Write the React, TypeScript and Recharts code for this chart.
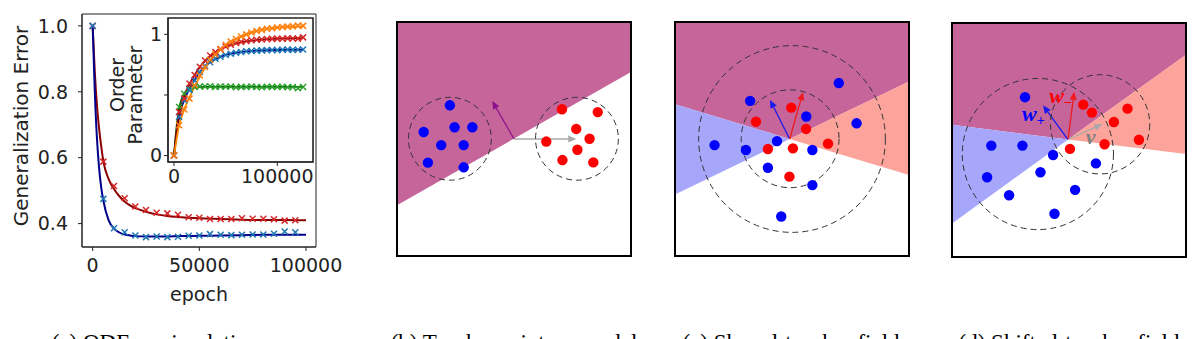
import React from 'react';
import {
  Area,
  CartesianGrid,
  ComposedChart,
  Label,
  Line,
  ReferenceArea,
  ReferenceDot,
  ReferenceLine,
  Scatter,
  XAxis,
  YAxis,
} from 'recharts';

const FONT = 'DejaVu Sans, sans-serif';
const INK = '#222';

// (a) generalization error, simulations (markers) and ODE (lines)
const SIM_EPOCHS = [0, 5000, 10000, 15000, 20000, 25000, 30000, 35000, 40000, 45000, 50000, 55000, 60000, 65000, 70000, 75000, 80000, 85000, 90000, 95000];
const SIM_ERR_RED = [1.0, 0.588, 0.514, 0.477, 0.452, 0.441, 0.433, 0.431, 0.427, 0.419, 0.418, 0.414, 0.414, 0.414, 0.416, 0.415, 0.415, 0.413, 0.409, 0.41];
const SIM_ERR_BLUE = [1.0, 0.475, 0.386, 0.374, 0.364, 0.359, 0.361, 0.359, 0.36, 0.363, 0.364, 0.368, 0.366, 0.365, 0.366, 0.367, 0.367, 0.369, 0.376, 0.374];
const ODE_EPOCHS = [0, 1000, 2000, 3000, 4000, 5000, 7500, 10000, 12500, 15000, 17500, 20000, 25000, 30000, 35000, 40000, 50000, 60000, 70000, 80000, 90000, 100000];
const ODE_ERR_RED = [1.0, 0.86, 0.76, 0.69, 0.635, 0.59, 0.535, 0.505, 0.483, 0.467, 0.455, 0.447, 0.436, 0.428, 0.423, 0.42, 0.416, 0.414, 0.412, 0.411, 0.411, 0.41];
const ODE_ERR_BLUE = [1.0, 0.8, 0.66, 0.57, 0.51, 0.47, 0.41, 0.385, 0.373, 0.367, 0.364, 0.362, 0.361, 0.361, 0.361, 0.362, 0.363, 0.364, 0.365, 0.366, 0.366, 0.366];

// inset: order parameters
const INSET_SIM_X = [0, 5000, 10000, 15000, 20000, 25000, 30000, 35000, 40000, 45000, 50000, 55000, 60000, 65000, 70000, 75000, 80000, 85000, 90000, 95000, 100000, 105000, 110000, 115000, 120000, 125000];
const SIM_OP_ORANGE = [0, 0.25, 0.38, 0.47, 0.58, 0.66, 0.73, 0.79, 0.835, 0.875, 0.915, 0.94, 0.962, 0.983, 1.0, 1.015, 1.028, 1.037, 1.046, 1.05, 1.057, 1.06, 1.064, 1.066, 1.072, 1.07];
const SIM_OP_RED = [0, 0.36, 0.47, 0.595, 0.664, 0.733, 0.785, 0.825, 0.855, 0.878, 0.9, 0.915, 0.928, 0.938, 0.945, 0.952, 0.955, 0.958, 0.962, 0.963, 0.965, 0.964, 0.967, 0.966, 0.965, 0.975];
const SIM_OP_BLUE = [0, 0.32, 0.457, 0.54, 0.62, 0.69, 0.74, 0.77, 0.8, 0.815, 0.829, 0.84, 0.848, 0.855, 0.86, 0.863, 0.866, 0.868, 0.87, 0.871, 0.87, 0.873, 0.874, 0.872, 0.873, 0.875];
const SIM_OP_GREEN = [0, 0.4, 0.51, 0.55, 0.565, 0.57, 0.57, 0.572, 0.565, 0.57, 0.568, 0.57, 0.563, 0.567, 0.565, 0.57, 0.566, 0.563, 0.568, 0.567, 0.565, 0.568, 0.563, 0.566, 0.555, 0.566];
const INSET_ODE_X = [0, 2500, 5000, 7500, 10000, 15000, 20000, 25000, 30000, 40000, 50000, 60000, 70000, 80000, 90000, 100000, 110000, 125000];
const ODE_OP_ORANGE = [0, 0.13, 0.25, 0.32, 0.385, 0.48, 0.57, 0.65, 0.72, 0.83, 0.91, 0.96, 1.0, 1.027, 1.045, 1.055, 1.062, 1.066];
const ODE_OP_RED = [0, 0.2, 0.35, 0.43, 0.49, 0.59, 0.665, 0.73, 0.78, 0.85, 0.898, 0.925, 0.942, 0.953, 0.96, 0.964, 0.967, 0.968];
const ODE_OP_BLUE = [0, 0.17, 0.31, 0.4, 0.46, 0.55, 0.625, 0.69, 0.735, 0.795, 0.83, 0.848, 0.859, 0.865, 0.869, 0.871, 0.872, 0.873];
const ODE_OP_GREEN = [0, 0.24, 0.39, 0.47, 0.515, 0.55, 0.561, 0.565, 0.567, 0.567, 0.567, 0.567, 0.567, 0.567, 0.567, 0.567, 0.567, 0.567];

// (b)-(d) toy geometries, coordinates in a 0..100 box
type Pt = [number, number];
const B_BLUE: Pt[] = [[22.6, 64.4], [11.4, 53.0], [24.6, 55.0], [32.2, 55.0], [18.9, 47.4], [28.5, 47.4], [13.2, 39.9], [28.5, 37.9]];
const B_RED: Pt[] = [[70.5, 62.7], [85.8, 61.5], [76.6, 54.3], [63.8, 48.9], [82.3, 50.1], [77.1, 45.4], [70.7, 41.0], [83.9, 40.0]];
const B_CIRCLES: [number, number, number][] = [[22.6, 50.1, 17.7], [76.9, 50.1, 17.7]];
const B_BOUNDARY = { left: 21.7, right: 78.6 };
const B_ARROWS: [Pt, Pt, string][] = [[[50, 50], [40.7, 66.2], 'purple'], [[50, 50], [76.6, 50], 'gray']];

const C_BLUE: Pt[] = [[70.0, 73.9], [32.1, 66.3], [56.1, 59.6], [77.6, 56.7], [16.9, 47.4], [30.3, 45.3], [43.6, 49.1], [58.7, 45.3], [39.7, 37.7], [58.7, 30.3], [45.4, 16.9]];
const C_RED: Pt[] = [[49.7, 63.4], [34.6, 57.4], [56.0, 54.3], [65.4, 48.0], [39.7, 45.7], [50.4, 46.0], [48.9, 33.9]];
const C_CIRCLES: [number, number, number][] = [[50, 50, 39.9], [49.2, 50.1, 20.9]];
const C_CENTER: Pt = [49, 50];
const C_EDGES = { leftUp: 64.9, leftDown: 26.3, rightUp: 74.6, rightDown: 34.6 };
const C_ARROWS: [Pt, Pt, string][] = [[[49, 50], [40.6, 66.7], 'blue'], [[49, 50], [54.7, 70.0], 'red']];

const D_BLUE: Pt[] = [[31.2, 68.3], [16.8, 47.6], [30.1, 47.6], [15.0, 34.1], [43.2, 43.6], [37.8, 36.2], [24.4, 26.4], [52.6, 28.7], [61.5, 40.0], [43.8, 18.5]];
const D_RED: Pt[] = [[56.1, 65.1], [59.8, 61.7], [75.0, 63.4], [69.2, 57.7], [79.9, 50.1], [65.2, 48.2], [50.4, 46.2]];
const D_CIRCLES: [number, number, number][] = [[36.7, 44.0, 32.3], [63.3, 56.7, 21.2]];
const D_CENTER: Pt = [49.6, 50.2];
const D_EDGES = { leftUp: 56.5, leftDown: 14.3, rightUp: 86.4, rightDown: 44.0 };
const D_ARROWS: [Pt, Pt, string][] = [[[49.6, 50.2], [38.9, 64.8], 'blue'], [[49.6, 50.2], [52.2, 70.6], 'red'], [[49.6, 50.2], [64.3, 56.8], 'gray']];
const D_LABELS: { x: number; y: number; name: string; sub: string; color: string }[] = [
  { x: 44.6, y: 67.4, name: 'w', sub: '\u2212', color: 'red' },
  { x: 32.9, y: 59.8, name: 'w', sub: '+', color: 'blue' },
  { x: 60.1, y: 49.8, name: 'v', sub: '', color: 'gray' },
];

const CAPTIONS = ['(a) ODE vs simulations', '(b) Teacher-mixture model', '(c) Shared-teacher field', '(d) Shifted-teacher field'];
const CAPTION_CENTERS = [160, 514, 791, 1069];

const rows = (xs: number[], ys: number[]) => xs.map((x, i) => ({ x, y: ys[i] }));
const pts = (p: Pt[]) => p.map(([x, y]) => ({ x, y }));

const ARROW_COLORS: Record<string, string> = {
  purple: '#8e128e',
  gray: '#a8a8a8',
  blue: '#1a1af0',
  red: '#f01a1a',
};
const MAGENTA = '#c5659a';
const LAVENDER = '#a6a6fb';
const SALMON = '#fca39b';

const cross = (color: string) => (p: any) => {
  const { cx, cy } = p;
  const s = 3;
  return (
    <g stroke={color} strokeWidth={1.5}>
      <line x1={cx - s} y1={cy - s} x2={cx + s} y2={cy + s} />
      <line x1={cx - s} y1={cy + s} x2={cx + s} y2={cy - s} />
    </g>
  );
};

const dot = (color: string) => (p: any) => <circle cx={p.cx} cy={p.cy} r={5.2} fill={color} />;

const arrow = (color: string) => (p: any) => {
  const { x1, y1, x2, y2 } = p;
  const dx = x2 - x1;
  const dy = y2 - y1;
  const len = Math.hypot(dx, dy) || 1;
  const ux = dx / len;
  const uy = dy / len;
  const hl = 8;
  const hw = 3.5;
  const bx = x2 - ux * hl;
  const by = y2 - uy * hl;
  return (
    <g>
      <line x1={x1} y1={y1} x2={bx} y2={by} stroke={color} strokeWidth={1.3} />
      <polygon points={`${x2},${y2} ${bx - uy * hw},${by + ux * hw} ${bx + uy * hw},${by - ux * hw}`} fill={color} />
    </g>
  );
};

const vecLabel = (p: any) => {
  const { cx, cy, payload } = p;
  return (
    <text x={cx - 7} y={cy + 4} fill={payload.color} fontFamily="Liberation Serif, serif" fontStyle="italic" fontWeight="bold" fontSize={22}>
      {payload.name}
      {payload.sub && (
        <tspan dy={4} fontSize={14} fontStyle="normal">
          {payload.sub}
        </tspan>
      )}
    </text>
  );
};

const tickStyle = { fill: INK, fontSize: 19, fontFamily: FONT };

function ErrorChart() {
  return (
    <ComposedChart width={350} height={320} margin={{ top: 14, right: 34, bottom: 17, left: 22 }}>
      <XAxis
        type="number"
        dataKey="x"
        domain={[-5000, 104700]}
        ticks={[0, 50000, 100000]}
        allowDataOverflow
        height={56}
        tickSize={4}
        tickMargin={8}
        tick={tickStyle}
        stroke={INK}
      >
        <Label value="epoch" position="insideBottom" offset={2} fill={INK} fontSize={19} fontFamily={FONT} />
      </XAxis>
      <YAxis
        type="number"
        dataKey="y"
        domain={[0.329, 1.036]}
        ticks={[0.4, 0.6, 0.8, 1.0]}
        tickFormatter={(v: number) => v.toFixed(1)}
        allowDataOverflow
        width={60}
        tickSize={4}
        tickMargin={10}
        tick={tickStyle}
        stroke={INK}
      >
        <Label
          content={() => (
            <text x={28} y={126} transform="rotate(-90 28 126)" textAnchor="middle" fill={INK} fontSize={20} fontFamily={FONT}>
              Generalization Error
            </text>
          )}
        />
      </YAxis>
      <ReferenceArea x1={-5000} x2={104700} y1={0.329} y2={1.036} fill="none" stroke={INK} strokeWidth={1} ifOverflow="visible" />
      <Line data={rows(ODE_EPOCHS, ODE_ERR_RED)} dataKey="y" type="monotone" stroke="#8b0000" strokeWidth={2} dot={false} isAnimationActive={false} />
      <Line data={rows(ODE_EPOCHS, ODE_ERR_BLUE)} dataKey="y" type="monotone" stroke="#00008b" strokeWidth={2} dot={false} isAnimationActive={false} />
      <Scatter data={rows(SIM_EPOCHS, SIM_ERR_RED)} dataKey="y" shape={cross('#d62728')} isAnimationActive={false} />
      <Scatter data={rows(SIM_EPOCHS, SIM_ERR_BLUE)} dataKey="y" shape={cross('#1f77b4')} isAnimationActive={false} />
    </ComposedChart>
  );
}

function OrderInset() {
  const series: [number[], number[], string, string][] = [
    [ODE_OP_GREEN, SIM_OP_GREEN, '#006400', '#2ca02c'],
    [ODE_OP_BLUE, SIM_OP_BLUE, '#00008b', '#1f77b4'],
    [ODE_OP_RED, SIM_OP_RED, '#8b0000', '#d62728'],
    [ODE_OP_ORANGE, SIM_OP_ORANGE, '#ff8c00', '#ff7f0e'],
  ];
  return (
    <ComposedChart width={220} height={200} margin={{ top: 18, right: 7, bottom: 8, left: 38 }}>
      <CartesianGrid fill="#fff" horizontal={false} vertical={false} />
      <XAxis
        type="number"
        dataKey="x"
        domain={[-5800, 134600]}
        ticks={[0, 100000]}
        allowDataOverflow
        height={30}
        tickSize={4}
        tickMargin={4}
        tick={tickStyle}
        stroke={INK}
      />
      <YAxis
        type="number"
        dataKey="y"
        domain={[-0.053, 1.135]}
        ticks={[0, 0.5, 1]}
        tickFormatter={(v: number) => (v === 0.5 ? '' : String(v))}
        allowDataOverflow
        width={30}
        tickSize={4}
        tickMargin={2}
        tick={tickStyle}
        stroke={INK}
      >
        <Label
          content={() => (
            <g fill={INK} fontSize={19} fontFamily={FONT}>
              <text x={24} y={85} transform="rotate(-90 24 85)" textAnchor="middle">Order</text>
              <text x={42} y={95} transform="rotate(-90 42 95)" textAnchor="middle">Parameter</text>
            </g>
          )}
        />
      </YAxis>
      {series.map(([ode, sim, lc, mc], i) => (
        <Scatter key={`s${i}`} data={rows(INSET_SIM_X, sim)} dataKey="y" shape={cross(mc)} isAnimationActive={false} />
      ))}
      {series.map(([ode, sim, lc], i) => (
        <Line key={`l${i}`} data={rows(INSET_ODE_X, ode)} dataKey="y" type="monotone" stroke={lc} strokeWidth={1.8} dot={false} isAnimationActive={false} />
      ))}
      <ReferenceArea x1={-5800} x2={134600} y1={-0.053} y2={1.135} fill="none" stroke={INK} strokeWidth={1.6} ifOverflow="visible" />
    </ComposedChart>
  );
}

type Wedges = {
  top: { x: number; r: [number, number] }[];
  left?: { x: number; r: [number, number] }[];
  right?: { x: number; r: [number, number] }[];
};

function Geometry({
  wedges,
  blue,
  red,
  circles,
  arrows,
  labels,
}: {
  wedges: Wedges;
  blue: Pt[];
  red: Pt[];
  circles: [number, number, number][];
  arrows: [Pt, Pt, string][];
  labels?: typeof D_LABELS;
}) {
  const size = 234;
  const px = size / 100;
  return (
    <ComposedChart width={size + 4} height={size + 4} margin={{ top: 2, right: 2, bottom: 2, left: 2 }}>
      <XAxis type="number" dataKey="x" domain={[0, 100]} allowDataOverflow hide />
      <YAxis type="number" domain={[0, 100]} allowDataOverflow hide />
      <Area data={wedges.top} dataKey="r" type="linear" stroke="none" fill={MAGENTA} fillOpacity={1} isAnimationActive={false} />
      {wedges.left && (
        <Area data={wedges.left} dataKey="r" type="linear" stroke="none" fill={LAVENDER} fillOpacity={1} isAnimationActive={false} />
      )}
      {wedges.right && (
        <Area data={wedges.right} dataKey="r" type="linear" stroke="none" fill={SALMON} fillOpacity={1} isAnimationActive={false} />
      )}
      {circles.map(([x, y, r], i) => (
        <ReferenceDot key={`c${i}`} x={x} y={y} r={r * px} fill="none" stroke="#333" strokeWidth={1} strokeDasharray="6 4" ifOverflow="visible" />
      ))}
      <Scatter data={pts(blue)} dataKey="y" shape={dot('#0000ff')} isAnimationActive={false} />
      <Scatter data={pts(red)} dataKey="y" shape={dot('#ff0000')} isAnimationActive={false} />
      {arrows.map(([a, b, c], i) => (
        <ReferenceLine
          key={`a${i}`}
          segment={[{ x: a[0], y: a[1] }, { x: b[0], y: b[1] }]}
          shape={arrow(ARROW_COLORS[c])}
          ifOverflow="visible"
        />
      ))}
      {labels && <Scatter data={labels} dataKey="y" shape={vecLabel} isAnimationActive={false} />}
      <ReferenceArea x1={0} x2={100} y1={0} y2={100} fill="none" stroke="#000" strokeWidth={2} ifOverflow="visible" />
    </ComposedChart>
  );
}

const fourWedges = (c: Pt, e: typeof C_EDGES): Wedges => ({
  top: [
    { x: 0, r: [e.leftUp, 100] },
    { x: c[0], r: [c[1], 100] },
    { x: 100, r: [e.rightUp, 100] },
  ],
  left: [
    { x: 0, r: [e.leftDown, e.leftUp] },
    { x: c[0], r: [c[1], c[1]] },
  ],
  right: [
    { x: c[0], r: [c[1], c[1]] },
    { x: 100, r: [e.rightDown, e.rightUp] },
  ],
});

export default function App() {
  const abs = (left: number, top: number): React.CSSProperties => ({ position: 'absolute', left, top });
  return (
    <div style={{ position: 'absolute', left: 0, top: 0, width: 1194, height: 339, background: '#fff', overflow: 'hidden' }}>
      <div style={abs(0, 0)}>
        <ErrorChart />
      </div>
      <div style={abs(100, 0)}>
        <OrderInset />
      </div>
      <div style={abs(395, 20)}>
        <Geometry
          wedges={{ top: [{ x: 0, r: [B_BOUNDARY.left, 100] }, { x: 100, r: [B_BOUNDARY.right, 100] }] }}
          blue={B_BLUE}
          red={B_RED}
          circles={B_CIRCLES}
          arrows={B_ARROWS}
        />
      </div>
      <div style={abs(673, 20)}>
        <Geometry wedges={fourWedges(C_CENTER, C_EDGES)} blue={C_BLUE} red={C_RED} circles={C_CIRCLES} arrows={C_ARROWS} />
      </div>
      <div style={abs(950, 21)}>
        <Geometry wedges={fourWedges(D_CENTER, D_EDGES)} blue={D_BLUE} red={D_RED} circles={D_CIRCLES} arrows={D_ARROWS} labels={D_LABELS} />
      </div>
      {CAPTIONS.map((t, i) => (
        <div
          key={t}
          style={{
            ...abs(CAPTION_CENTERS[i] - 150, 331),
            width: 300,
            textAlign: 'center',
            fontFamily: 'Liberation Serif, serif',
            fontSize: 23,
            lineHeight: 1,
            color: '#000',
            whiteSpace: 'nowrap',
          }}
        >
          {t}
        </div>
      ))}
    </div>
  );
}
